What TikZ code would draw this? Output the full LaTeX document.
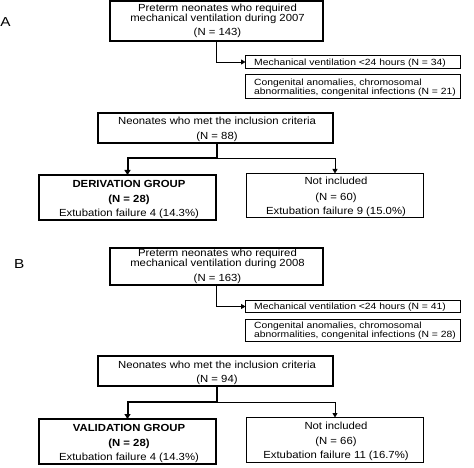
\documentclass[tikz,border=0pt]{standalone}
\usepackage{fontspec}
\setmainfont{Liberation Sans}
\newfontfamily\mainfam[FakeStretch=1.1]{Liberation Sans}
\newfontfamily\sidefam[FakeStretch=1.15]{Liberation Sans}
\newfontfamily\panelfam[FakeStretch=1.18]{Liberation Sans}
\usetikzlibrary{arrows.meta}
\begin{document}
\begin{tikzpicture}[x=1pt,y=-1pt,
  box/.style={draw,inner sep=0pt,outer sep=0pt},
  thickbox/.style={box,line width=2.3pt},
  thinbox/.style={box,line width=1pt},
  txt/.style={anchor=base,inner sep=0pt,font=\mainfam\fontsize{10.3}{12}\selectfont},
  btxt/.style={txt,font=\mainfam\bfseries\fontsize{10.3}{12}\selectfont},
  stxt/.style={anchor=base west,inner sep=0pt,font=\sidefam\fontsize{9}{10}\selectfont},
  panel/.style={anchor=base west,inner sep=0pt,font=\panelfam\fontsize{13}{14}\selectfont},
  thickcon/.style={line width=2pt},
  thincon/.style={line width=0.9pt},
  tipthick/.style={-{Triangle[length=5pt,width=6pt]}},
  tipthin/.style={-{Triangle[length=4.5pt,width=5pt]}}
]
\useasboundingbox (0,0) rectangle (474,468);
\fill[white] (0,0) rectangle (474,468);

% ---------- Panel A ----------
\node[panel] (labA) at (0.3,26.7) {A};
\node[thickbox,minimum width=213pt,minimum height=40pt] (topA) at (216.5,21) {};
\node[txt] (topA1) at (217.5,11.2) {Preterm neonates who required};
\node[txt] (topA2) at (217.5,21.1) {mechanical ventilation during 2007};
\node[txt] (topA3) at (217.5,36) {(N = 143)};
\node[thinbox,minimum width=215pt,minimum height=13pt] (mechA) at (353,62) {};
\node[stxt] (mechAt) at (254,65.7) {Mechanical ventilation <24 hours (N = 34)};
\node[thinbox,minimum width=215pt,minimum height=24pt] (congA) at (353,86.5) {};
\node[stxt] (congA1) at (254,86) {Congenital anomalies, chromosomal};
\node[stxt] (congA2) at (254,95) {abnormalities, congenital infections (N = 21)};
\node[thickbox,minimum width=235pt,minimum height=30pt] (incA) at (215.5,128) {};
\node[txt] (incA1) at (217,125) {Neonates who met the inclusion criteria};
\node[txt] (incA2) at (217,139.3) {(N = 88)};
\node[thickbox,minimum width=177pt,minimum height=45pt] (derA) at (127.5,197.5) {};
\node[btxt] (derA1) at (129,187.3) {DERIVATION GROUP};
\node[btxt] (derA2) at (129,202.7) {(N = 28)};
\node[txt] (derA3) at (129,216) {Extubation failure 4 (14.3\%)};
\node[thinbox,minimum width=177pt,minimum height=44pt] (notA) at (335,195.5) {};
\node[txt] (notA1) at (336,185) {Not included};
\node[txt] (notA2) at (336,200.7) {(N = 60)};
\node[txt] (notA3) at (336,214) {Extubation failure 9 (15.0\%)};
\draw[thincon,tipthin] (topA.south) |- (mechA.west);
\coordinate (jA) at (216.5,158.3);
\draw[thickcon] (jA |- incA.south) -- (jA);
\draw[thickcon,tipthick] ([xshift=1pt]jA) -| (derA.north);
\draw[thincon,tipthin] (jA) -| (notA.north);

% ---------- Panel B ----------
\node[panel] (labB) at (14,268.7) {B};
\node[thickbox,minimum width=213pt,minimum height=37pt] (topB) at (216.5,266.5) {};
\node[txt] (topB1) at (217.5,256.7) {Preterm neonates who required};
\node[txt] (topB2) at (217.5,266.6) {mechanical ventilation during 2008};
\node[txt] (topB3) at (217.5,281.5) {(N = 163)};
\node[thinbox,minimum width=215pt,minimum height=12pt] (mechB) at (353,306.5) {};
\node[stxt] (mechBt) at (254,309.5) {Mechanical ventilation <24 hours (N = 41)};
\node[thinbox,minimum width=215pt,minimum height=22pt] (congB) at (353,330.5) {};
\node[stxt] (congB1) at (254,328.2) {Congenital anomalies, chromosomal};
\node[stxt] (congB2) at (254,337) {abnormalities, congenital infections (N = 28)};
\node[thickbox,minimum width=235pt,minimum height=30pt] (incB) at (215.5,371) {};
\node[txt] (incB1) at (217,368.2) {Neonates who met the inclusion criteria};
\node[txt] (incB2) at (217,382.5) {(N = 94)};
\node[thickbox,minimum width=177pt,minimum height=45pt] (valB) at (127.5,441.5) {};
\node[btxt] (valB1) at (129,431.3) {VALIDATION GROUP};
\node[btxt] (valB2) at (129,446.7) {(N = 28)};
\node[txt] (valB3) at (129,460) {Extubation failure 4 (14.3\%)};
\node[thinbox,minimum width=177pt,minimum height=45pt] (notB) at (335,440) {};
\node[txt] (notB1) at (336,429) {Not included};
\node[txt] (notB2) at (336,444.5) {(N = 66)};
\node[txt] (notB3) at (336,458) {Extubation failure 11 (16.7\%)};
\draw[thincon,tipthin] (topB.south) |- (mechB.west);
\coordinate (jB) at (216.5,402);
\draw[thickcon] (jB |- incB.south) -- (jB);
\draw[thickcon,tipthick] ([xshift=1pt]jB) -| (valB.north);
\draw[thincon,tipthin] (jB) -| (notB.north);
\end{tikzpicture}
\end{document}
